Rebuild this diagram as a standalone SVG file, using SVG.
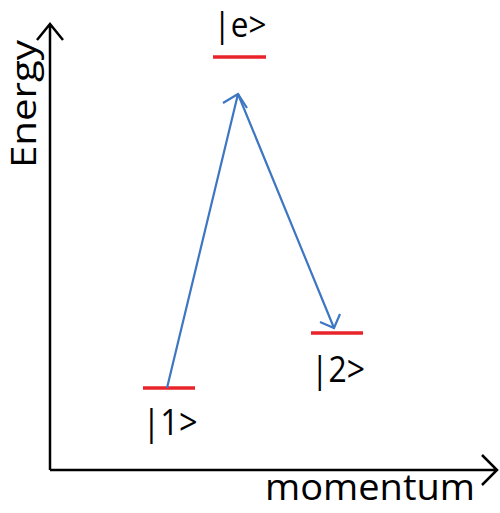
<svg xmlns="http://www.w3.org/2000/svg" width="500" height="513" viewBox="0 0 500 513">
<style>
.axis{stroke:#000;stroke-width:2.5;fill:none}
.lvl{stroke:#e8242a;stroke-width:3.5}
.tr{stroke:#3d76c2;stroke-width:2.2;fill:none}
text{font-family:"Open Sans","Liberation Sans",sans-serif;font-size:37px;fill:#000}
.edge{font-size:34px}
</style>
<rect width="500" height="513" fill="#fff"/>
<g id="axes">
<path class="axis" d="M50,470 V24 M37,40 L50,24 L63,40"/>
<path class="axis" d="M50,470 H497 M482,455 L497,470 L482,485"/>
<text class="edge" transform="translate(36,104) rotate(-90)" text-anchor="middle" textLength="128" lengthAdjust="spacingAndGlyphs">Energy</text>
<text x="370" y="500" text-anchor="middle" textLength="210" lengthAdjust="spacingAndGlyphs">momentum</text>
</g>
<g id="level-e">
<line class="lvl" x1="213" y1="57" x2="266" y2="57"/>
<text class="edge" x="240" y="37" text-anchor="middle" textLength="53" lengthAdjust="spacingAndGlyphs">|e&gt;</text>
</g>
<g id="level-1">
<line class="lvl" x1="143" y1="388" x2="195" y2="388"/>
<text x="170" y="435" text-anchor="middle" textLength="55" lengthAdjust="spacingAndGlyphs">|1&gt;</text>
</g>
<g id="level-2">
<line class="lvl" x1="311" y1="333" x2="363" y2="333"/>
<text x="338" y="382" text-anchor="middle" textLength="54" lengthAdjust="spacingAndGlyphs">|2&gt;</text>
</g>
<g id="connectors">
<path class="tr" d="M167,388 L238,94 M223,103 L238,94 L247,108"/>
<path class="tr" d="M238,94 L334,328 M320,322 L334,328 L340,314"/>
</g>
</svg>
